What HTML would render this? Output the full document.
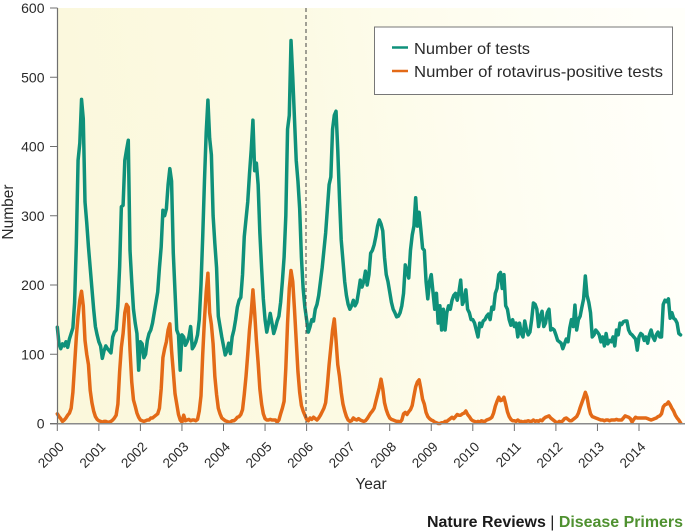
<!DOCTYPE html>
<html>
<head>
<meta charset="utf-8">
<style>
html,body{margin:0;padding:0;background:#fff;}
svg{display:block;}
text{font-family:"Liberation Sans",sans-serif;fill:#2a2a2a;}
</style>
</head>
<body>
<svg id="chart" xmlns="http://www.w3.org/2000/svg" width="685" height="531" viewBox="0 0 685 531">
<defs>
<linearGradient id="plotFill" x1="0" y1="0.55" x2="1" y2="0.45">
<stop offset="0" stop-color="#fbf8dc"/>
<stop offset="0.4" stop-color="#fcfae3"/>
<stop offset="0.7" stop-color="#fefdf0"/>
<stop offset="1" stop-color="#fffffa"/>
</linearGradient>
</defs>
<rect x="57.5" y="8" width="627.5" height="415.5" fill="url(#plotFill)"/>
<g id="marks"></g>
<line x1="306" y1="8" x2="306" y2="423.5" stroke="#444" stroke-width="1" stroke-dasharray="4 3"/>
<g id="axes"></g>
<g>
<rect x="374.5" y="27" width="298" height="67.5" fill="#fff" stroke="#777" stroke-width="1"/>
<line x1="392" y1="47.5" x2="408" y2="47.5" stroke="#0f917a" stroke-width="2.5"/>
<text x="414" y="54" font-size="16" textLength="116" lengthAdjust="spacingAndGlyphs">Number of tests</text>
<line x1="392" y1="71" x2="408" y2="71" stroke="#e36a17" stroke-width="2.5"/>
<text x="414" y="77" font-size="16" textLength="249" lengthAdjust="spacingAndGlyphs">Number of rotavirus-positive tests</text>
</g>
<text x="371" y="489" font-size="15.5" text-anchor="middle">Year</text>
<text x="0" y="0" font-size="15.5" text-anchor="middle" transform="translate(13 212) rotate(-90)">Number</text>
<text x="683" y="527" font-size="16" font-weight="bold" text-anchor="end" textLength="256" lengthAdjust="spacingAndGlyphs"><tspan fill="#1a1a1a">Nature Reviews</tspan><tspan fill="#1a1a1a" font-weight="normal"> | </tspan><tspan fill="#4f9130">Disease Primers</tspan></text>
</svg>
<script>
var years = ["2000","2001","2002","2003","2004","2005","2006","2007","2008","2009","2010","2011","2012","2013","2014"];
var yTickValues = [0,100,200,300,400,500,600];
var samplesPerYear = 24;
var testCounts = [
139,115,108,115,112,118,110,122,130,138,175,260,380,405,468,440,320,290,255,225,195,165,140,128,
118,112,94,105,112,108,105,102,125,132,135,170,226,313,315,380,395,409,250,205,165,145,130,77,
118,115,95,100,120,130,135,145,160,175,190,225,255,308,300,310,345,368,350,246,190,135,128,77,
128,125,113,118,125,140,108,112,118,128,150,200,270,350,420,467,412,388,300,260,225,155,140,125,
112,99,105,116,101,125,135,150,168,178,182,215,270,295,320,360,395,438,365,376,345,275,225,180,
150,132,145,159,145,130,138,148,155,175,205,240,300,425,445,553,500,440,380,350,310,240,195,168,
150,132,140,150,148,165,172,185,205,225,250,275,310,345,356,425,445,451,395,325,265,235,205,185,
172,165,170,178,170,175,190,207,197,205,220,200,215,246,250,258,270,285,294,288,278,240,215,205,
190,175,165,160,154,155,160,170,188,229,220,210,250,272,285,326,285,305,280,253,250,205,180,205,
215,190,165,188,145,170,135,165,135,160,170,165,178,185,188,178,190,207,172,178,193,165,160,150,
150,145,135,125,145,140,148,150,155,158,150,168,165,188,195,215,218,195,215,170,165,150,142,150,
140,145,125,145,130,125,148,135,128,132,150,174,172,165,140,155,162,140,145,160,165,135,137,135,
128,120,118,116,108,115,122,118,138,150,140,171,135,150,155,168,180,213,185,175,160,125,128,135,
132,128,118,125,112,130,115,120,118,125,112,135,128,145,143,147,148,148,135,130,128,125,122,106,
125,130,128,120,125,116,128,135,125,120,128,132,125,125,172,178,176,180,152,160,152,150,145,130,128
];
var positiveCounts = [
14,10,7,3,5,8,12,15,22,45,85,125,155,178,191,170,120,100,85,48,30,18,10,6,
4,3,2,3,3,2,2,3,5,8,12,28,75,110,130,160,172,168,106,60,34,25,15,9,
5,4,3,4,5,5,8,8,10,12,14,22,50,95,108,118,135,144,105,75,43,28,13,5,
2,12,4,5,6,4,5,5,4,6,18,40,100,150,190,217,160,143,115,68,42,22,14,8,
6,4,3,2,2,4,4,6,9,10,13,20,42,68,100,135,160,193,160,120,88,50,28,14,
7,5,5,6,5,5,5,2,5,14,22,32,80,145,195,221,205,165,120,75,45,26,18,12,
6,4,8,6,9,7,5,8,12,17,22,30,55,85,110,135,151,120,85,68,45,28,18,10,
5,3,4,8,6,5,7,5,4,3,4,7,11,15,18,22,32,42,52,64,50,30,20,13,
8,6,5,4,3,3,2,5,14,16,13,17,20,26,40,53,60,63,50,35,28,16,10,7,
5,4,2,1,0,0,1,1,3,3,5,7,9,7,10,13,12,12,14,15,18,13,10,6,
4,3,2,3,2,4,3,3,5,6,7,9,15,25,32,38,33,34,38,28,17,10,6,4,
4,3,5,3,3,2,3,3,4,3,3,5,3,4,3,5,4,7,9,10,11,8,6,4,
2,1,3,2,4,7,8,6,4,4,6,8,10,15,23,30,37,45,38,24,14,10,9,8,
7,6,5,5,4,5,5,4,5,5,5,6,5,5,5,8,11,10,9,7,2,6,9,8,
8,8,8,8,8,7,6,5,6,7,8,10,11,14,24,27,28,31,27,22,18,12,8,5,1
];

var NS = "http://www.w3.org/2000/svg";
var xStart = 57.3, yearWidth = 41.55, yZero = 423.5, yPerUnit = 415.5 / 600;
function xByYear(t) { return xStart + t * yearWidth; }
function xBySample(i) { return xByYear(i / samplesPerYear); }
function yByValue(v) { return yZero - v * yPerUnit; }
function node(tag, attrs) {
  var el = document.createElementNS(NS, tag);
  for (var k in attrs) el.setAttribute(k, attrs[k]);
  return el;
}
function seriesPath(values) {
  return values.map(function (v, i) {
    return (i ? "L" : "M") + xBySample(i).toFixed(2) + " " + yByValue(v).toFixed(2);
  }).join("");
}

var marks = document.getElementById("marks");
var axes = document.getElementById("axes");

var testsLine = node("path", {d: seriesPath(testCounts), fill: "none", stroke: "#0f917a", "stroke-width": 3.5, "stroke-linejoin": "round", "stroke-linecap": "round"});


marks.appendChild(testsLine);

var positiveLine = node("path", {d: seriesPath(positiveCounts), fill: "none", stroke: "#e36a17", "stroke-width": 3.5, "stroke-linejoin": "round", "stroke-linecap": "round"});


marks.appendChild(positiveLine);

var yAxisLine = node("line", {x1: 57.5, y1: 8, x2: 57.5, y2: 424, stroke: "#6f6f6f", "stroke-width": 1.2});


axes.appendChild(yAxisLine);

var xAxisLine = node("line", {x1: 50, y1: 423.8, x2: 685, y2: 423.8, stroke: "#8a8a8a", "stroke-width": 1.5});


axes.appendChild(xAxisLine);

yTickValues.forEach(function (v) {
  var y = yByValue(v);
  var tick = node("line", {x1: 50, y1: y, x2: 57.5, y2: y, stroke: "#6f6f6f", "stroke-width": 1});
  
  
  axes.appendChild(tick);
  var label = node("text", {x: 44.5, y: y + 5, "font-size": 14, "text-anchor": "end"});
  
  
  label.textContent = String(v);
  axes.appendChild(label);
});

years.forEach(function (name, n) {
  var x = xByYear(n);
  var tick = node("line", {x1: x, y1: 424, x2: x, y2: 431, stroke: "#6f6f6f", "stroke-width": 1});
  
  
  axes.appendChild(tick);
  var label = node("text", {x: 0, y: 0, "font-size": 13.5, "text-anchor": "end", transform: "translate(" + (x + 7.5).toFixed(2) + " 447.5) rotate(-45)"});
  
  
  label.textContent = name;
  axes.appendChild(label);
});
</script>
</body>
</html>
